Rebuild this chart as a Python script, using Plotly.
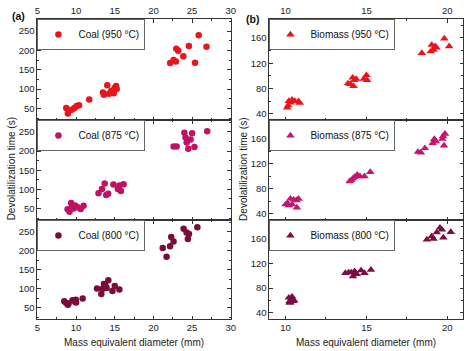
import plotly.graph_objects as go
from plotly.subplots import make_subplots

# ---------------- data ----------------
coal950_x = [8.73, 8.94, 9.45, 9.79, 10.08, 10.38, 11.7, 13.47, 13.6, 14.03, 14.24, 14.53, 14.75, 14.87, 15.0, 15.17, 15.25,
             22.16, 22.6, 22.9, 22.95, 23.2, 23.86, 24.58, 25.38, 25.85, 26.86]
coal950_y = [51, 37, 46.5, 51, 56, 58, 73, 91, 85, 110, 88, 95, 96, 89, 103, 108, 100,
             167, 175, 171, 204, 199, 185, 211, 168, 239, 209]

coal875_x = [8.9, 9.15, 9.36, 9.46, 9.66, 9.87, 10.2, 10.6, 10.97, 12.9, 13.35, 13.7, 13.9, 14.15, 14.83, 15.4, 15.6, 15.8, 16.14,
             22.6, 23.0, 24.0, 24.15, 24.3, 24.5, 24.8, 25.0, 25.3, 26.95]
coal875_y = [48, 41.4, 64.6, 53.4, 50, 57.7, 53.4, 49, 56.9, 89.5, 100.6, 115, 85, 88.6, 112.7, 100.6, 110, 95.5, 113.5,
             212, 212, 247.4, 235.4, 222.5, 206, 230, 246.6, 210.5, 251.7]

coal800_x = [8.47, 8.73, 8.94, 9.03, 9.53, 9.87, 9.96, 10.0, 10.85, 12.7, 13.26, 13.4, 13.6, 13.8, 13.95, 14.17, 14.7, 15.0, 15.6,
             21.2, 21.7, 22.15, 22.3, 22.6, 23.9, 24.28, 24.45, 24.6, 25.68]
coal800_y = [67, 62, 57.7, 61, 69.7, 65.5, 70.6, 63.7, 74, 100.6, 86, 99, 112, 107.5, 101.5, 122, 93.8, 106.7, 98,
             207, 184, 212, 236, 224, 258, 248, 231, 244, 262]

bio950_x = [10.1, 10.16, 10.2, 10.3, 10.4, 10.57, 10.8, 10.87, 13.86, 14.0, 14.15, 14.2, 14.25, 14.37, 14.84, 15.0, 15.04,
            18.43, 18.98, 19.04, 19.15, 19.25, 19.33, 19.82, 20.12]
bio950_y = [49.6, 53, 60, 57.6, 62, 60, 59.7, 57, 88, 87, 97, 83.7, 93, 95, 95, 101, 93.3,
            136, 138.7, 149, 141, 146.7, 144.5, 159, 146.7]

bio875_x = [10.0, 10.12, 10.2, 10.3, 10.4, 10.5, 10.67, 10.7, 10.8, 13.96, 14.07, 14.17, 14.27, 14.43, 14.6, 14.88, 15.24,
            18.19, 18.37, 18.62, 19.1, 19.2, 19.3, 19.7, 19.74, 19.8, 19.86]
bio875_y = [55, 57, 53.4, 64.2, 55, 62.6, 61.5, 50, 64, 92, 93.8, 96.5, 99, 102.4, 100, 100, 106.7,
            139, 138, 145, 153, 159.5, 155.7, 160, 164, 149.2, 168]

bio800_x = [10.2, 10.24, 10.26, 10.3, 10.37, 10.4, 10.47, 10.53, 13.7, 13.9, 14.07, 14.17, 14.27, 14.4, 14.67, 14.88, 15.28,
            18.74, 19.04, 19.15, 19.35, 19.55, 19.67, 19.76, 20.22]
bio800_y = [64.4, 56.4, 59, 56.4, 61.8, 66, 59, 60, 104.2, 105.3, 105.3, 99, 107, 102.6, 108.5, 104.2, 109.5,
            158.4, 163.7, 159.5, 170, 177.5, 174.3, 161.6, 170.6]

coal_names = ["Coal (950 °C)", "Coal (875 °C)", "Coal (800 °C)"]
bio_names = ["Biomass (950 °C)", "Biomass (875 °C)", "Biomass (800 °C)"]
coal_colors = ["#e8151d", "#bf1260", "#7a0c3c"]
bio_colors = ["#e8151d", "#c8146c", "#7d0c42"]

left_xticks = [5, 10, 15, 20, 25, 30]
right_xticks = [10, 15, 20]
left_yticks = [50, 100, 150, 200, 250]
right_yticks = [40, 80, 120, 160]

W, H = 474, 351
FONT = "Liberation Sans, Arial, sans-serif"

fig = make_subplots(rows=3, cols=2)

coal = [(coal950_x, coal950_y), (coal875_x, coal875_y), (coal800_x, coal800_y)]
bio = [(bio950_x, bio950_y), (bio875_x, bio875_y), (bio800_x, bio800_y)]

for i in range(3):
    lg = "legend" if i == 0 else f"legend{2*i+1}"
    fig.add_trace(go.Scatter(x=coal[i][0], y=coal[i][1], mode="markers", name=coal_names[i],
                             marker=dict(symbol="circle", size=6.5, color=coal_colors[i]),
                             legend=lg, showlegend=True), row=i + 1, col=1)
    lg2 = f"legend{2*i+2}"
    fig.add_trace(go.Scatter(x=bio[i][0], y=bio[i][1], mode="markers", name=bio_names[i],
                             marker=dict(symbol="triangle-up", size=7.5, color=bio_colors[i]),
                             legend=lg2, showlegend=True), row=i + 1, col=2)

# pixel-based domains
def px_x(a, b):
    return [a / W, b / W]

def px_y(top, bottom):
    return [(H - bottom) / H, (H - top) / H]

left_dom = px_x(35, 231.7)
right_dom = px_x(271, 468.3)
rows_px = [(19, 120), (120, 220), (220, 319)]

axis_common = dict(showline=True, linecolor="#333", linewidth=1, mirror="ticks", ticks="inside",
                   ticklen=3.5, tickwidth=1, tickcolor="#333", showgrid=False, zeroline=False,
                   tickfont=dict(family=FONT, size=9.5, color="#222"))

layout_upd = {}
for r in range(3):
    ydom = px_y(*rows_px[r])
    li = 2 * r + 1
    ri = 2 * r + 2
    lx = "xaxis" if li == 1 else f"xaxis{li}"
    ly = "yaxis" if li == 1 else f"yaxis{li}"
    rx = f"xaxis{ri}"
    ry = f"yaxis{ri}"
    side = "top" if r == 0 else "bottom"
    showlab = r in (0, 2)
    layout_upd[lx] = dict(axis_common, domain=left_dom, range=[5, 30], tickvals=left_xticks,
                          showticklabels=showlab, side=side,
                          minor=dict(ticks="inside", ticklen=2, tickcolor="#333", dtick=2.5))
    layout_upd[rx] = dict(axis_common, domain=right_dom, range=[9, 21], tickvals=right_xticks,
                          showticklabels=showlab, side=side,
                          minor=dict(ticks="inside", ticklen=2, tickcolor="#333", dtick=2.5, tick0=10))
    layout_upd[ly] = dict(axis_common, domain=ydom, range=[20, 281], tickvals=left_yticks,
                          minor=dict(ticks="inside", ticklen=2, tickcolor="#333", dtick=25, tick0=0))
    layout_upd[ry] = dict(axis_common, domain=ydom, range=[30, 190], tickvals=right_yticks,
                          minor=dict(ticks="inside", ticklen=2, tickcolor="#333", dtick=20, tick0=0))

    leg_common = dict(xanchor="left", yanchor="top", bgcolor="white", bordercolor="#666", borderwidth=1,
                      font=dict(family=FONT, size=10, color="#111"), itemwidth=30,
                      tracegroupgap=0)
    lname = "legend" if li == 1 else f"legend{li}"
    layout_upd[lname] = dict(leg_common, x=left_dom[0], y=ydom[1])
    layout_upd[f"legend{ri}"] = dict(leg_common, x=right_dom[0], y=ydom[1])

fig.update_layout(**layout_upd)

annos = [
    dict(text="(a)", x=16 / W, y=(H - 16) / H, font=dict(size=10.5, family=FONT, color="#111"), bold=True),
    dict(text="(b)", x=253.5 / W, y=(H - 19) / H, font=dict(size=10.5, family=FONT, color="#111"), bold=True),
    dict(text="Mass equivalent diameter (mm)", x=133.4 / W, y=(H - 342) / H, font=dict(size=10, family=FONT, color="#222")),
    dict(text="Mass equivalent diameter (mm)", x=369.7 / W, y=(H - 342) / H, font=dict(size=10, family=FONT, color="#222")),
    dict(text="Devolatilization time (s)", x=8.5 / W, y=(H - 169) / H, textangle=-90, font=dict(size=10, family=FONT, color="#222")),
    dict(text="Devolatilization time (s)", x=244 / W, y=(H - 169) / H, textangle=-90, font=dict(size=10, family=FONT, color="#222")),
]
for a in annos:
    bold = a.pop("bold", False)
    if bold:
        a["text"] = "<b>" + a["text"] + "</b>"
    fig.add_annotation(xref="paper", yref="paper", showarrow=False, xanchor="center", yanchor="middle", **a)

fig.update_layout(width=W, height=H, margin=dict(l=0, r=0, t=0, b=0),
                  paper_bgcolor="white", plot_bgcolor="white",
                  font=dict(family=FONT, color="#222"))

fig.write_html("out.html")
